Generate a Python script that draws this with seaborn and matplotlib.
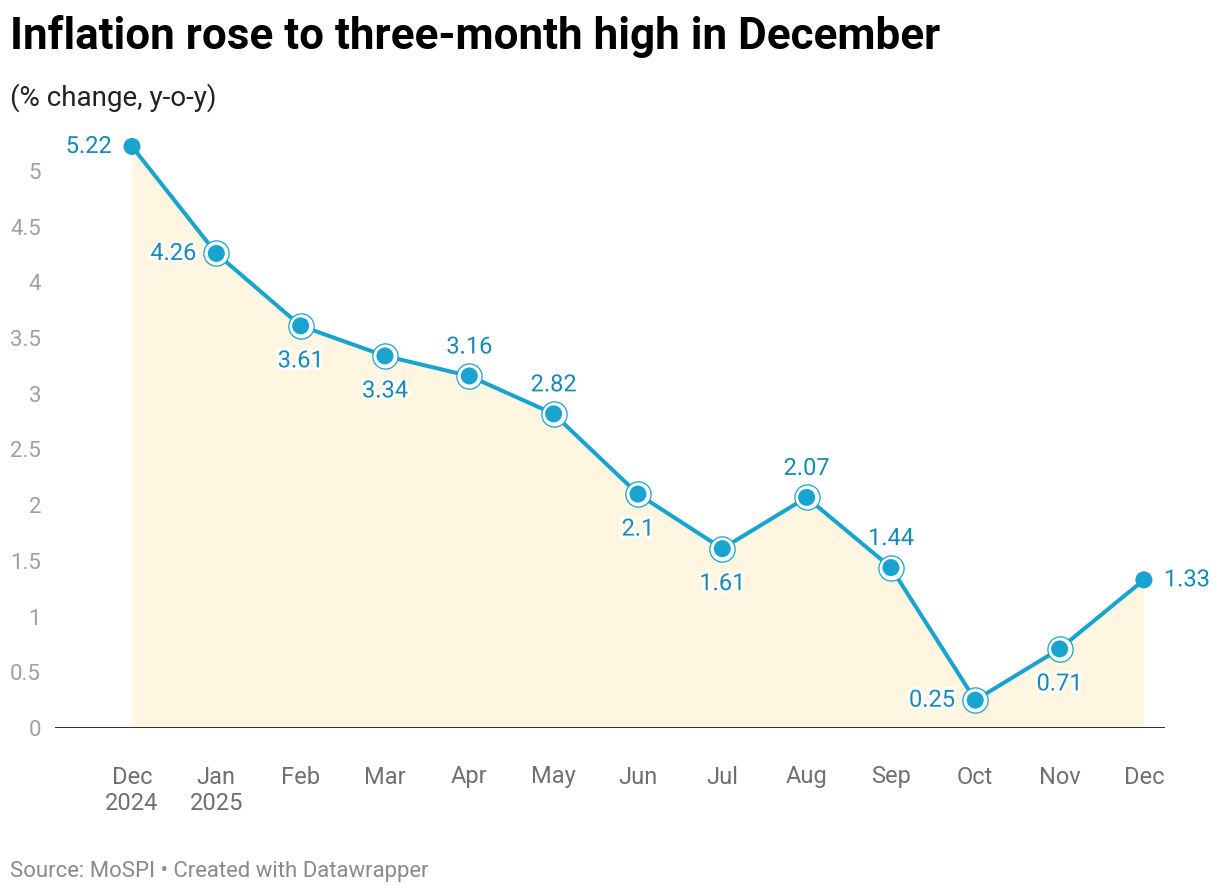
import matplotlib
matplotlib.use("Agg")
import matplotlib.pyplot as plt
import matplotlib.patheffects as pe
import pandas as pd
import seaborn as sns

# ====== Data ======
months = ["Dec\n2024", "Jan\n2025", "Feb", "Mar", "Apr", "May", "Jun",
          "Jul", "Aug", "Sep", "Oct", "Nov", "Dec"]
inflation = [5.22, 4.26, 3.61, 3.34, 3.16, 2.82, 2.10, 1.61, 2.07, 1.44, 0.25, 0.71, 1.33]
value_labels = ["5.22", "4.26", "3.61", "3.34", "3.16", "2.82", "2.1",
                "1.61", "2.07", "1.44", "0.25", "0.71", "1.33"]
label_side = ["left", "left", "below", "below", "above", "above", "below",
              "below", "above", "above", "left", "below", "right"]
y_ticks = [0, 0.5, 1, 1.5, 2, 2.5, 3, 3.5, 4, 4.5, 5]

df = pd.DataFrame({"pos": range(len(months)), "value": inflation})

# ====== Style ======
sns.set_style("white")
plt.rcParams["font.family"] = ["Roboto", "DejaVu Sans"]

LINE = "#19a3cf"
LABEL = "#168ab6"
FILL = "#fef6e1"

fig = plt.figure(figsize=(12.2, 8.94), dpi=100)
ax = fig.add_axes([55 / 1220, 1 - 728 / 894, 1110 / 1220, (728 - 132) / 894])

ax.fill_between(df["pos"], 0, df["value"], color=FILL, lw=0, zorder=1)
ax.axhline(0, color="#1a1a1a", lw=2.0, zorder=2)
sns.lineplot(data=df, x="pos", y="value", color=LINE, lw=2.9, ax=ax, zorder=3)

# ringed markers for the middle points, plain dots for the ends
mid = df.iloc[1:-1]
ax.scatter(mid["pos"], mid["value"], s=330, facecolor="white", edgecolor=LINE,
           lw=0.9, zorder=4, clip_on=False)
sns.scatterplot(data=df, x="pos", y="value", s=150, color=LINE, edgecolor="none",
                ax=ax, zorder=5, clip_on=False)

offsets = {"left": (-20, 0, "right", "center"),
           "right": (20, 0, "left", "center"),
           "above": (0, 29, "center", "center"),
           "below": (0, -35, "center", "center")}
for i, (v, txt, side) in enumerate(zip(inflation, value_labels, label_side)):
    dx, dy, ha, va = offsets[side]
    ax.annotate(txt, (i, v), xytext=(dx, dy), textcoords="offset pixels",
                ha=ha, va=va, fontsize=17, color=LABEL, zorder=6,
                path_effects=[pe.withStroke(linewidth=4, foreground="white")])

ax.set_xlim(-0.913, 12.25)
ax.set_ylim(0, 5.35)
ax.set_xticks(range(len(months)))
ax.set_xticklabels(months, fontsize=17, color="#707070", linespacing=1.2)
ax.set_yticks(y_ticks)
ax.set_yticklabels([f"{t:g}" for t in y_ticks], fontsize=16, color="#a0a0a0")
ax.tick_params(axis="x", length=0, pad=27)
ax.tick_params(axis="y", length=0, pad=10)
ax.set_xlabel("")
ax.set_ylabel("")
for s in ax.spines.values():
    s.set_visible(False)
ax.grid(False)

fig.text(10 / 1220, 1 - 36 / 894, "Inflation rose to three-month high in December",
         fontsize=31.7, fontweight="bold", color="#000000", va="center", ha="left")
fig.text(10 / 1220, 1 - 98 / 894, "(% change, y-o-y)",
         fontsize=20, color="#222222", va="center", ha="left")
fig.text(10 / 1220, 1 - 871 / 894, "Source: MoSPI \u2022 Created with Datawrapper",
         fontsize=15.9, color="#8a8a8a", va="center", ha="left")

fig.savefig("out.png", dpi=100, facecolor="white")
